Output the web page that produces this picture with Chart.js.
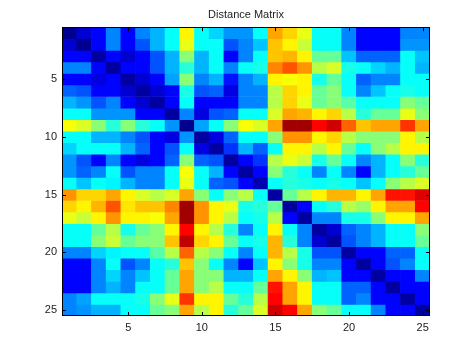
<!DOCTYPE html>
<html>
<head>
<meta charset="utf-8">
<script src="https://cdn.jsdelivr.net/npm/chart.js@4.4.0/dist/chart.umd.min.js"></script>
<style>
html,body{margin:0;padding:0;background:#fff;}
#wrap{width:474px;height:355px;}
</style>
</head>
<body>
<div id="wrap"><canvas id="c" width="474" height="355"></canvas></div>
<script>
const titleText = 'Distance Matrix';
const columns = ['1','2','3','4','5','6','7','8','9','10','11','12','13','14','15','16','17','18','19','20','21','22','23','24','25'];
const xTickLabels = ['5','10','15','20','25'];
const yTickValues = [5,10,15,20,25];

const row1  = [0.02,0.08,0.13,0.25,0.13,0.25,0.30,0.38,0.63,0.38,0.33,0.27,0.27,0.38,0.72,0.67,0.60,0.38,0.38,0.25,0.13,0.13,0.13,0.25,0.25];
const row2  = [0.08,0.02,0.13,0.25,0.13,0.20,0.30,0.38,0.60,0.38,0.38,0.20,0.25,0.32,0.68,0.63,0.57,0.38,0.38,0.25,0.13,0.13,0.13,0.27,0.27];
const row3  = [0.13,0.13,0.03,0.13,0.08,0.13,0.20,0.30,0.50,0.30,0.38,0.13,0.25,0.38,0.68,0.70,0.63,0.48,0.48,0.32,0.22,0.22,0.22,0.38,0.32];
const row4  = [0.25,0.25,0.13,0.03,0.13,0.13,0.20,0.30,0.42,0.30,0.38,0.25,0.38,0.40,0.75,0.80,0.73,0.56,0.58,0.40,0.38,0.33,0.30,0.38,0.30];
const row5  = [0.13,0.13,0.10,0.13,0.03,0.08,0.13,0.28,0.50,0.25,0.30,0.15,0.25,0.30,0.63,0.62,0.63,0.40,0.48,0.38,0.22,0.25,0.25,0.38,0.38];
const row6  = [0.22,0.20,0.13,0.13,0.08,0.03,0.08,0.13,0.40,0.20,0.22,0.10,0.25,0.25,0.56,0.67,0.63,0.48,0.50,0.38,0.25,0.32,0.38,0.40,0.38];
const row7  = [0.30,0.27,0.20,0.25,0.13,0.08,0.03,0.13,0.38,0.13,0.13,0.13,0.25,0.25,0.56,0.67,0.60,0.48,0.50,0.46,0.38,0.38,0.38,0.50,0.48];
const row8  = [0.38,0.38,0.27,0.27,0.27,0.13,0.13,0.03,0.25,0.10,0.20,0.22,0.38,0.38,0.58,0.72,0.70,0.63,0.67,0.56,0.42,0.48,0.48,0.60,0.50];
const row9  = [0.62,0.58,0.50,0.42,0.50,0.42,0.38,0.27,0.02,0.28,0.38,0.50,0.62,0.58,0.72,0.97,0.97,0.87,0.92,0.78,0.68,0.72,0.72,0.82,0.72];
const row10 = [0.38,0.38,0.30,0.30,0.25,0.20,0.13,0.10,0.27,0.03,0.10,0.22,0.38,0.38,0.50,0.73,0.73,0.63,0.67,0.56,0.50,0.50,0.50,0.63,0.56];
const row11 = [0.33,0.38,0.38,0.38,0.30,0.22,0.13,0.20,0.38,0.10,0.03,0.18,0.30,0.22,0.38,0.63,0.63,0.56,0.63,0.48,0.38,0.50,0.55,0.63,0.63];
const row12 = [0.27,0.20,0.13,0.25,0.13,0.10,0.13,0.22,0.50,0.22,0.20,0.03,0.13,0.18,0.55,0.60,0.57,0.40,0.48,0.38,0.25,0.30,0.38,0.50,0.42];
const row13 = [0.27,0.22,0.25,0.38,0.20,0.25,0.25,0.38,0.62,0.38,0.30,0.13,0.03,0.13,0.50,0.42,0.38,0.25,0.38,0.25,0.13,0.30,0.38,0.42,0.48];
const row14 = [0.38,0.32,0.38,0.36,0.30,0.25,0.25,0.38,0.60,0.38,0.22,0.20,0.13,0.04,0.38,0.42,0.40,0.38,0.40,0.38,0.32,0.38,0.50,0.55,0.58];
const row15 = [0.73,0.66,0.66,0.72,0.63,0.58,0.56,0.58,0.72,0.50,0.38,0.50,0.56,0.38,0.03,0.48,0.56,0.63,0.70,0.70,0.63,0.72,0.85,0.85,0.90];
const row16 = [0.67,0.63,0.70,0.80,0.65,0.68,0.68,0.74,0.97,0.73,0.63,0.60,0.40,0.42,0.48,0.03,0.13,0.38,0.42,0.56,0.52,0.63,0.72,0.72,0.88];
const row17 = [0.60,0.57,0.63,0.73,0.63,0.63,0.62,0.72,0.97,0.73,0.63,0.56,0.38,0.40,0.56,0.13,0.03,0.25,0.25,0.40,0.40,0.50,0.63,0.63,0.72];
const row18 = [0.38,0.38,0.48,0.56,0.40,0.48,0.50,0.63,0.88,0.63,0.55,0.42,0.25,0.38,0.63,0.38,0.25,0.03,0.08,0.22,0.25,0.30,0.38,0.38,0.50];
const row19 = [0.38,0.38,0.50,0.57,0.48,0.50,0.50,0.68,0.93,0.67,0.63,0.48,0.38,0.40,0.70,0.42,0.25,0.08,0.03,0.20,0.25,0.30,0.38,0.38,0.48];
const row20 = [0.25,0.25,0.33,0.36,0.38,0.38,0.46,0.56,0.78,0.56,0.50,0.38,0.25,0.38,0.70,0.56,0.40,0.20,0.20,0.03,0.13,0.13,0.22,0.22,0.38];
const row21 = [0.13,0.13,0.25,0.38,0.20,0.25,0.38,0.42,0.68,0.50,0.38,0.25,0.13,0.32,0.63,0.50,0.40,0.25,0.25,0.13,0.03,0.13,0.20,0.25,0.38];
const row22 = [0.13,0.13,0.25,0.33,0.25,0.32,0.38,0.48,0.72,0.50,0.50,0.30,0.30,0.38,0.72,0.63,0.50,0.30,0.32,0.13,0.13,0.03,0.13,0.13,0.25];
const row23 = [0.13,0.13,0.25,0.30,0.25,0.38,0.38,0.48,0.72,0.50,0.55,0.38,0.38,0.48,0.85,0.72,0.63,0.38,0.38,0.22,0.22,0.13,0.03,0.13,0.13];
const row24 = [0.25,0.28,0.38,0.38,0.38,0.40,0.50,0.60,0.82,0.63,0.63,0.48,0.42,0.55,0.87,0.72,0.63,0.38,0.38,0.22,0.25,0.13,0.13,0.03,0.13];
const row25 = [0.25,0.27,0.30,0.30,0.38,0.38,0.48,0.50,0.72,0.56,0.63,0.42,0.48,0.58,0.92,0.88,0.72,0.50,0.48,0.38,0.38,0.25,0.13,0.13,0.03];

const rows = [row1,row2,row3,row4,row5,row6,row7,row8,row9,row10,row11,row12,row13,row14,row15,row16,row17,row18,row19,row20,row21,row22,row23,row24,row25];

function jet(v){
  const n = 64;
  let t = Math.round(Math.max(0, Math.min(1, v)) * (n - 1)) / (n - 1);
  const c = x => Math.max(0, Math.min(1, x));
  const r = c(1.5 - Math.abs(4*t - 3));
  const g = c(1.5 - Math.abs(4*t - 2));
  const b = c(1.5 - Math.abs(4*t - 1));
  return 'rgb(' + Math.round(r*255) + ',' + Math.round(g*255) + ',' + Math.round(b*255) + ')';
}

const datasets = rows.map((vals, i) => ({
  data: columns.map(() => [i + 0.5, i + 1.5]),
  backgroundColor: vals.map(jet),
  borderWidth: 0,
  grouped: false,
  barPercentage: 1,
  categoryPercentage: 1
}));

const frame = {
  id: 'frame',
  afterDatasetsDraw(chart){
    const {ctx, chartArea: a, scales} = chart;
    ctx.save();
    ctx.strokeStyle = '#000';
    ctx.lineWidth = 1;
    ctx.strokeRect(Math.round(a.left) + 0.5, Math.round(a.top) + 0.5, Math.round(a.right - a.left) - 1, Math.round(a.bottom - a.top) - 1);
    const L = 4;
    ctx.beginPath();
    xTickLabels.forEach(lbl => {
      const x = Math.round(scales.x.getPixelForValue(columns.indexOf(lbl))) + 0.5;
      ctx.moveTo(x, a.bottom); ctx.lineTo(x, a.bottom - L);
      ctx.moveTo(x, a.top); ctx.lineTo(x, a.top + L);
    });
    yTickValues.forEach(v => {
      const y = Math.round(scales.y.getPixelForValue(v)) + 0.5;
      ctx.moveTo(a.left, y); ctx.lineTo(a.left + L, y);
      ctx.moveTo(a.right, y); ctx.lineTo(a.right - L, y);
    });
    ctx.stroke();
    ctx.restore();
  }
};

new Chart(document.getElementById('c'), {
  type: 'bar',
  data: { labels: columns, datasets },
  plugins: [frame],
  options: {
    responsive: false,
    animation: false,
    layout: { padding: { left: 0, right: 44, top: 0, bottom: 0 } },
    plugins: {
      legend: { display: false },
      tooltip: { enabled: false },
      title: {
        display: true,
        text: titleText,
        fullSize: false,
        color: '#222',
        font: { family: 'Liberation Sans, Arial, sans-serif', size: 11, weight: 'normal' },
        padding: { top: 8, bottom: 6 }
      }
    },
    scales: {
      x: {
        type: 'category',
        offset: true,
        grid: { display: false, drawTicks: false },
        border: { display: false },
        ticks: {
          autoSkip: false,
          maxRotation: 0,
          padding: 5,
          color: '#222',
          font: { family: 'Liberation Sans, Arial, sans-serif', size: 11 },
          callback: (v, i) => xTickLabels.includes(columns[i]) ? columns[i] : ''
        },
        afterFit: s => { s.height = 39; }
      },
      y: {
        type: 'linear',
        reverse: true,
        min: 0.5,
        max: 25.5,
        grid: { display: false, drawTicks: false },
        border: { display: false },
        afterBuildTicks: s => { s.ticks = yTickValues.map(v => ({ value: v })); },
        ticks: {
          padding: 5,
          color: '#222',
          font: { family: 'Liberation Sans, Arial, sans-serif', size: 11 },
          callback: v => String(v)
        },
        afterFit: s => { s.width = 62; }
      }
    }
  }
});
</script>
</body>
</html>
